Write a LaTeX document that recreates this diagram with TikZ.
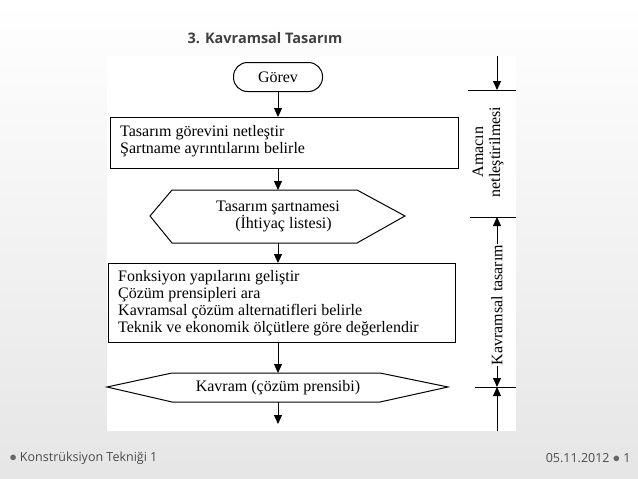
\documentclass[tikz,border=0pt]{standalone}
\usepackage{fontspec}
\setmainfont{Liberation Serif}
\newfontfamily\sfx{Open Sans}
\usetikzlibrary{arrows.meta,shapes.misc}
\begin{document}
\begin{tikzpicture}[x=1pt,y=-1pt,
  arr/.style={-{Triangle[length=9pt,width=8pt]},line width=1pt},
  txt/.style={font=\fontsize{16}{17}\selectfont,inner sep=1pt}]
\useasboundingbox (0,0) rectangle (638,479);
\shade[top color=white,bottom color=gray!20] (0,0) rectangle (638,479);
\fill[white] (107,56) rectangle (516,431);
\node[font=\sfx\bfseries\fontsize{14.5}{16}\selectfont,text=black!75] (title) at (265,38) {3. Kavramsal Tasarım};
\node[font=\sfx\fontsize{12.5}{14}\selectfont,text=black!70,anchor=west] (fl) at (6,458) {\textcolor{black!60}{\Large$\bullet$} Konstrüksiyon Tekniği 1};
\node[font=\sfx\fontsize{12.5}{14}\selectfont,text=black!70,anchor=east] (fr) at (634,458) {05.11.2012 \textcolor{black!60}{\Large$\bullet$} 1};
% flow
\node[draw,line width=1pt,rounded corners=14pt,minimum width=89pt,minimum height=29pt,txt] (g) at (278,77) {Görev};
\draw[line width=1pt] (110,117) rectangle (458,168);
\node[anchor=west,align=left,txt] (b1) at (119,141) {Tasarım görevini netleştir\\Şartname ayrıntılarını belirle};
\coordinate (b1t) at (278,117); \coordinate (b1b) at (278,168);
\draw[line width=1pt] (150,216)--(172,190)--(357,190)--(405,216)--(357,243)--(172,243)--cycle;
\node[txt,align=left] (h1) at (278,216) {Tasarım şartnamesi\\\hspace{1.2em}(İhtiyaç listesi)};
\coordinate (h1t) at (278,190); \coordinate (h1b) at (278,243);
\draw[line width=1pt] (108,263) rectangle (455,342);
\node[anchor=west,align=left,txt] (b2) at (117,303) {Fonksiyon yapılarını geliştir\\Çözüm prensipleri ara\\Kavramsal çözüm alternatifleri belirle\\Teknik ve ekonomik ölçütlere göre değerlendir};
\coordinate (b2t) at (278,263); \coordinate (b2b) at (278,342);
\draw[line width=1pt] (107,387)--(172,373)--(380,373)--(448,387)--(380,402)--(172,402)--cycle;
\node[txt] (h2) at (278,387.5) {Kavram (çözüm prensibi)};
\coordinate (h2t) at (278,373); \coordinate (h2b) at (278,402);
\coordinate (end) at (278,424);
\draw[arr] (g.south) -- (b1t);
\draw[arr] (b1b) -- (h1t);
\draw[arr] (h1b) -- (b2t);
\draw[arr] (b2b) -- (h2t);
\draw[arr] (h2b) -- (end);
% right side
\coordinate (r0) at (497,56); \coordinate (r1) at (497,90);
\coordinate (r2) at (497,217); \coordinate (r3) at (497,387);
\coordinate (r4) at (497,431);
\draw[line width=1pt] (468,90) -- (516,90);
\draw[line width=1pt] (470,217) -- (516,217);
\draw[line width=1pt] (475,387) -- (516,387);
\draw[arr] (r0) -- (r1);
\draw[arr] (497,248) -- (r2);
\draw[arr] (497,364) -- (r3);
\draw[arr] (r4) -- (r3);
\node[txt,rotate=90,align=center] (l1) at (488,152) {Amacın\\netleştirilmesi};
\node[txt,rotate=90,fill=white,inner sep=1pt] (l2) at (497,305) {Kavramsal tasarım};
\end{tikzpicture}
\end{document}
